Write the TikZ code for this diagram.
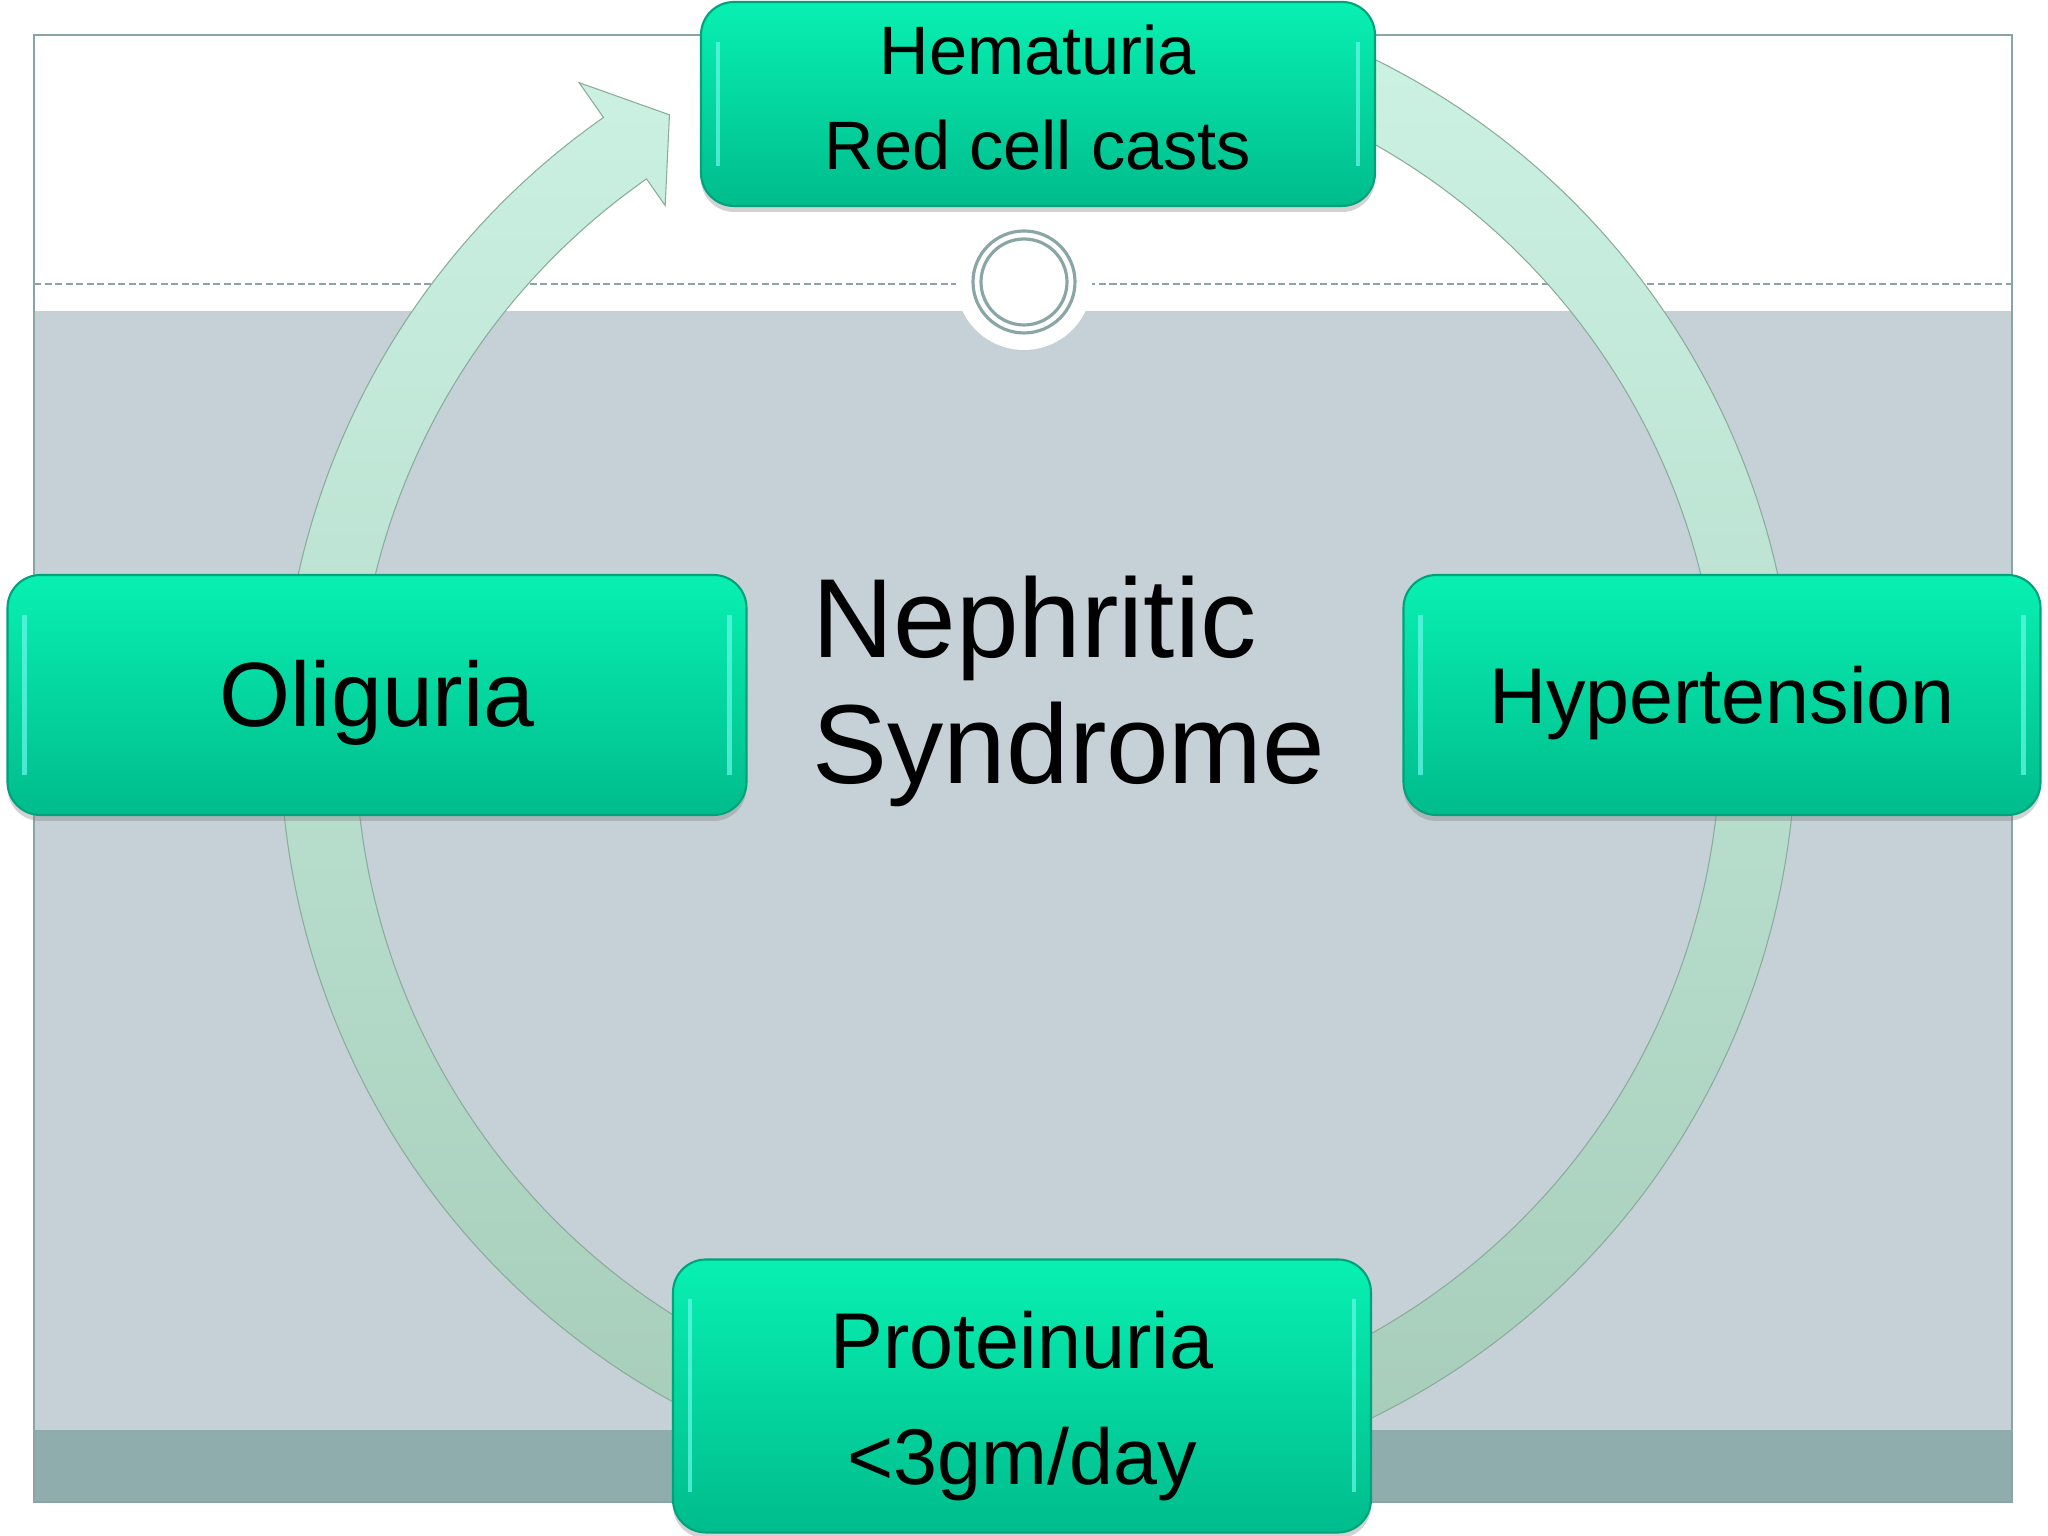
\documentclass[tikz,border=0pt]{standalone}
\usepackage{fontspec}
\setmainfont{Liberation Sans}
\usetikzlibrary{shadows}

\definecolor{slidegray}{HTML}{C5D1D6}
\definecolor{bandgray}{HTML}{8FADAC}
\definecolor{framegray}{HTML}{8AA5A5}
\definecolor{mintlight}{HTML}{CBF2E3}
\definecolor{mintdark}{HTML}{A3C9B6}
\definecolor{boxtop}{HTML}{08F0B2}
\definecolor{boxbottom}{HTML}{00BC8D}
\definecolor{boxedge}{HTML}{00A27C}
\definecolor{bevel}{HTML}{6AF8EC}

\begin{document}
\begin{tikzpicture}[
  box/.style={draw=boxedge, line width=0.6pt, rectangle, rounded corners=0.33cm, top color=boxtop, bottom color=boxbottom, align=center,
    drop shadow={shadow xshift=0pt, shadow yshift=-0.06cm, opacity=0.35},
    path picture={
      \draw[bevel, opacity=0.7, line width=1.4pt]
        ([shift={(0.17,-0.4)}]path picture bounding box.north west) -- ([shift={(0.17,0.4)}]path picture bounding box.south west)
        ([shift={(-0.17,-0.4)}]path picture bounding box.north east) -- ([shift={(-0.17,0.4)}]path picture bounding box.south east);
    }},
  ring/.style={top color=mintlight, bottom color=mintdark, draw=mintdark!85!black, line width=0.3pt},
  ornament/.style={draw=framegray, line width=0.9pt}
]
  \useasboundingbox (0,0) rectangle (20.48,15.36);
  \fill[white] (0,0) rectangle (20.48,15.36);
  \fill[slidegray] (0.34,1.06) rectangle (20.12,12.25);
  \fill[bandgray] (0.34,0.34) rectangle (20.12,1.06);
  \draw[framegray, dash pattern=on 2pt off 1pt, line width=0.5pt] (0.34,12.52) -- (20.12,12.52);
  \draw[framegray, line width=0.6pt] (0.34,0.34) rectangle (20.12,15.01);

  \coordinate (orn) at (10.24,12.54);
  \fill[white] (orn) circle (0.68);
  \draw[ornament] (orn) circle (0.51);
  \draw[ornament] (orn) circle (0.43);

  \coordinate (hub) at (10.38,7.98);
  \path[ring, shift={(hub)}] (70:7.575) arc[start angle=70, end angle=-235, radius=7.575]
    -- (125:8.0) -- (120.6:7.24) -- (125:6.5) -- (125:6.825)
    arc[start angle=-235, end angle=70, radius=6.825] -- cycle;

  \node (hema) [box, minimum width=6.74cm, minimum height=2.04cm, font=\fontsize{19.5}{27}\selectfont] at (10.38,14.32) {Hematuria\\Red cell casts\rule[-0.14cm]{0pt}{0pt}};
  \node (olig) [box, minimum width=7.39cm, minimum height=2.40cm, font=\fontsize{26}{31}\selectfont] at (3.77,8.41) {\rule{0pt}{0.83cm}Oliguria};
  \node (hyper) [box, minimum width=6.37cm, minimum height=2.40cm, font=\fontsize{22.5}{27}\selectfont] at (17.22,8.41) {\rule{0pt}{0.74cm}Hypertension};
  \node (prot) [box, minimum width=6.98cm, minimum height=2.73cm, font=\fontsize{22.5}{33}\selectfont] at (10.22,1.40) {\rule{0pt}{0.78cm}Proteinuria\\<3gm/day};
  \node (title) [anchor=west, inner sep=0pt, align=left, font=\fontsize{32}{36}\selectfont] at (8.12,8.445) {Nephritic\\Syndrome};
\end{tikzpicture}
\end{document}
